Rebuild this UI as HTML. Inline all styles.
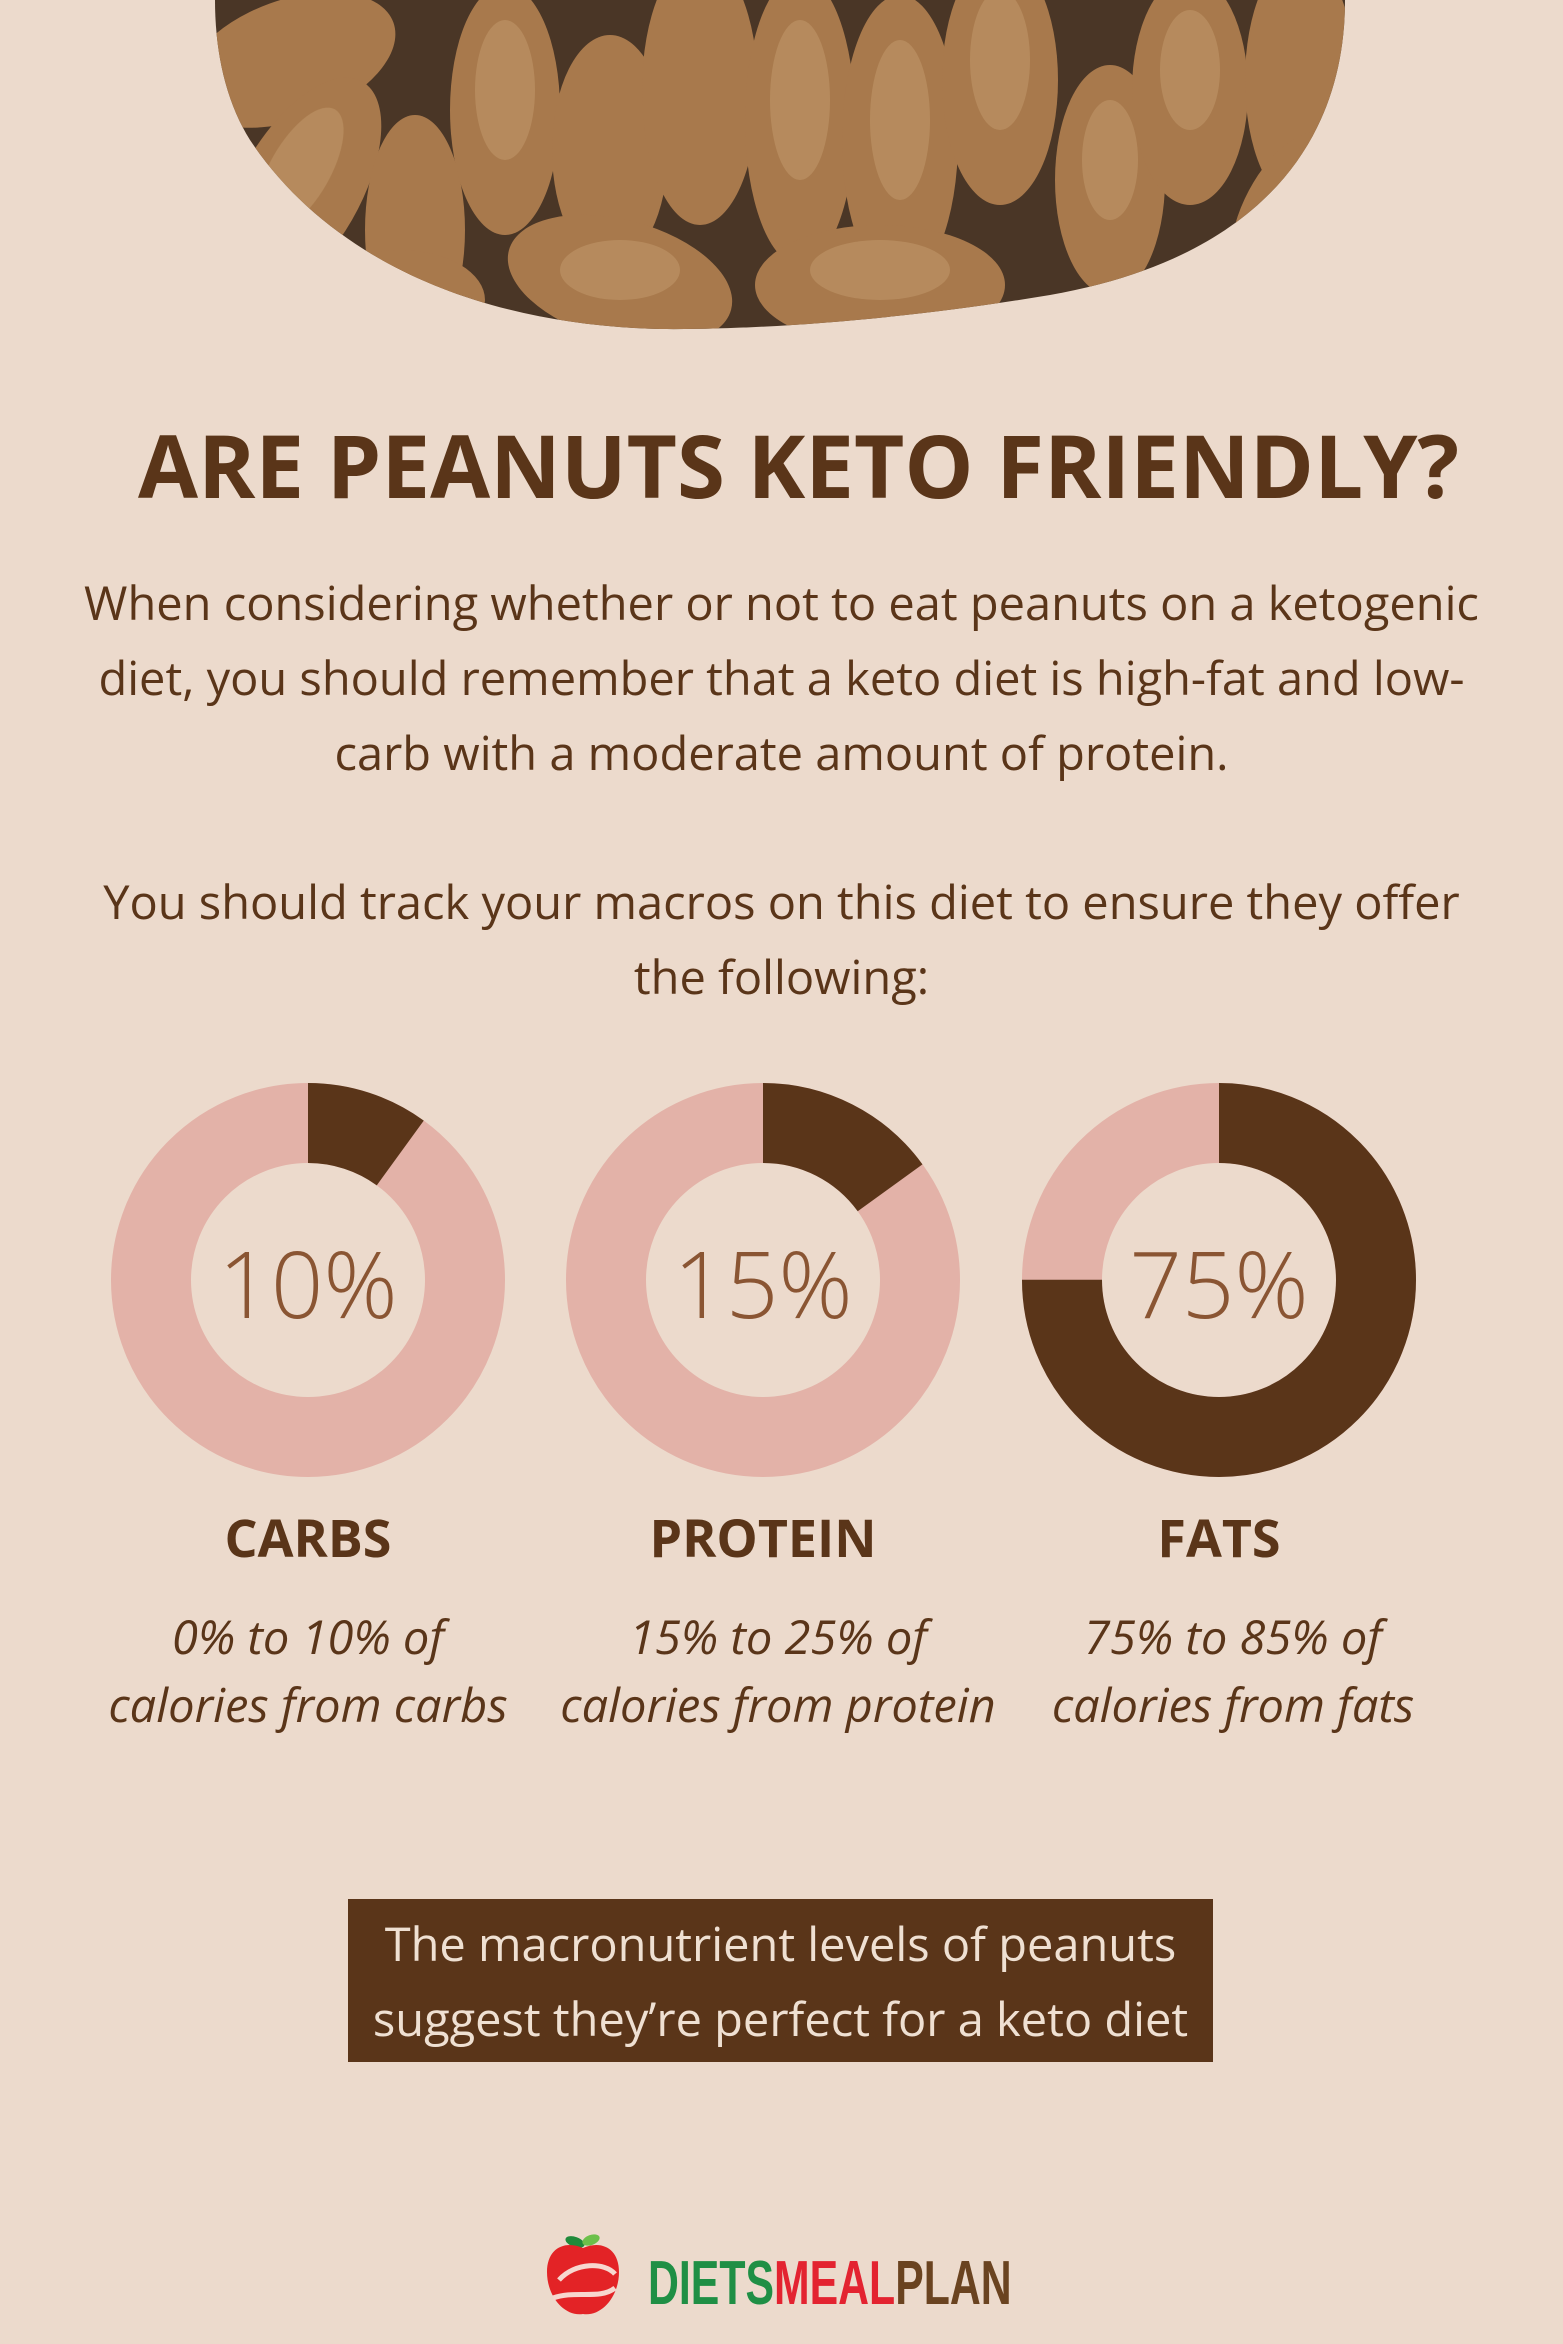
<!DOCTYPE html>
<html><head><meta charset="utf-8"><style>
html,body{margin:0;padding:0}
body{width:1563px;height:2344px;background:#ecdacc;position:relative;overflow:hidden;font-family:"Open Sans","Liberation Sans","DejaVu Sans",sans-serif;color:#5a3519}
.abs{position:absolute;left:0;width:1563px;text-align:center}
.title{top:406px;font-size:87px;font-weight:bold;left:17px}
.p{font-size:47px;line-height:75px;color:#5a3519}
.pct{position:absolute;font-size:92px;color:#8a5533;font-weight:300;text-align:center;width:300px}
.lab{position:absolute;font-size:52px;font-weight:bold;width:450px;text-align:center}
.it{position:absolute;font-size:47px;font-style:italic;line-height:68px;width:520px;text-align:center}
.box{position:absolute;left:348px;top:1899px;width:865px;height:163px;background:#5a3519;color:#efe0d2;font-size:47px;line-height:75px;text-align:center;padding-top:7px;box-sizing:border-box}
.logo{position:absolute;left:648px;top:2253px;font-family:"Liberation Sans",sans-serif;font-weight:bold;font-size:62px;line-height:62px;transform:scaleX(0.69);transform-origin:0 0;white-space:nowrap}
</style></head><body>
<svg width="1563" height="340" style="position:absolute;left:0;top:0">
<defs><clipPath id="c"><path d="M215,0 L1345,0 C1345,150 1250,260 1050,295 C900,320 760,330 660,329 C480,325 330,260 250,140 C225,100 215,50 215,0 Z"/></clipPath></defs>
<g clip-path="url(#c)">
<rect x="200" y="0" width="1160" height="340" fill="#4a3626"/>
<g fill="#a8794c">
<ellipse cx="290" cy="60" rx="110" ry="60" transform="rotate(-20 290 60)"/>
<ellipse cx="300" cy="190" rx="60" ry="125" transform="rotate(30 300 190)"/>
<ellipse cx="415" cy="230" rx="50" ry="115"/>
<ellipse cx="505" cy="110" rx="55" ry="125"/>
<ellipse cx="610" cy="150" rx="58" ry="115"/>
<ellipse cx="700" cy="90" rx="58" ry="135"/>
<ellipse cx="800" cy="120" rx="55" ry="145"/>
<ellipse cx="900" cy="140" rx="58" ry="145"/>
<ellipse cx="1000" cy="80" rx="58" ry="125"/>
<ellipse cx="1110" cy="180" rx="55" ry="115"/>
<ellipse cx="1190" cy="90" rx="58" ry="115"/>
<ellipse cx="1300" cy="80" rx="55" ry="125"/>
<ellipse cx="1290" cy="220" rx="50" ry="95" transform="rotate(25 1290 220)"/>
<ellipse cx="620" cy="280" rx="115" ry="60" transform="rotate(15 620 280)"/>
<ellipse cx="880" cy="285" rx="125" ry="60"/>
<ellipse cx="400" cy="300" rx="85" ry="50"/>
</g>
<g fill="#c29a6c" opacity="0.55">
<ellipse cx="505" cy="90" rx="30" ry="70"/>
<ellipse cx="800" cy="100" rx="30" ry="80"/>
<ellipse cx="1000" cy="60" rx="30" ry="70"/>
<ellipse cx="880" cy="270" rx="70" ry="30"/>
<ellipse cx="300" cy="170" rx="30" ry="70" transform="rotate(30 300 170)"/>
<ellipse cx="1190" cy="70" rx="30" ry="60"/>
<ellipse cx="620" cy="270" rx="60" ry="30"/>
<ellipse cx="900" cy="120" rx="30" ry="80"/>
<ellipse cx="1110" cy="160" rx="28" ry="60"/>
</g>
</g>
</svg>
<div class="abs title">ARE PEANUTS KETO FRIENDLY?</div>
<div class="abs p" style="top:565px">When considering whether or not to eat peanuts on a ketogenic<br>diet, you should remember that a keto diet is high-fat and low-<br>carb with a moderate amount of protein.</div>
<div class="abs p" style="top:864px">You should track your macros on this diet to ensure they offer<br>the following:</div>
<svg width="1563" height="420" style="position:absolute;left:0;top:1070px">
<g fill="none" stroke-width="80">
<circle cx="308" cy="210" r="157" stroke="#e3b2a8"/>
<circle cx="308" cy="210" r="157" stroke="#5a3519" stroke-dasharray="98.6 2000" transform="rotate(-90 308 210)"/>
<circle cx="763" cy="210" r="157" stroke="#e3b2a8"/>
<circle cx="763" cy="210" r="157" stroke="#5a3519" stroke-dasharray="148 2000" transform="rotate(-90 763 210)"/>
<circle cx="1219" cy="210" r="157" stroke="#e3b2a8"/>
<circle cx="1219" cy="210" r="157" stroke="#5a3519" stroke-dasharray="739.8 2000" transform="rotate(-90 1219 210)"/>
</g>
</svg>
<div class="pct" style="left:158px;top:1220px">10%</div>
<div class="pct" style="left:613px;top:1220px">15%</div>
<div class="pct" style="left:1069px;top:1220px">75%</div>
<div class="lab" style="left:83px;top:1502px">CARBS</div>
<div class="lab" style="left:538px;top:1502px">PROTEIN</div>
<div class="lab" style="left:994px;top:1502px">FATS</div>
<div class="it" style="left:48px;top:1602px">0% to 10% of<br>calories from carbs</div>
<div class="it" style="left:518px;top:1602px">15% to 25% of<br>calories from protein</div>
<div class="it" style="left:973px;top:1602px">75% to 85% of<br>calories from fats</div>
<div class="box">The macronutrient levels of peanuts<br>suggest they’re perfect for a keto diet</div>
<svg width="80" height="90" style="position:absolute;left:545px;top:2232px">
<ellipse cx="30" cy="10" rx="10" ry="5" fill="#1f8a3a" transform="rotate(20 30 10)"/>
<ellipse cx="46" cy="8" rx="9" ry="5" fill="#6cc04a" transform="rotate(-20 46 8)"/>
<path d="M38,16 C20,8 2,16 2,40 C2,65 20,85 38,82 C56,85 74,65 74,40 C74,16 56,8 38,16Z" fill="#e32326"/>
<path d="M14,48 C30,30 60,30 70,42 M8,66 C30,58 55,68 70,56" stroke="#f7d7cf" stroke-width="5" fill="none"/>
</svg>
<div class="logo"><span style="color:#1f8f45">DIETS</span><span style="color:#e32330">MEAL</span><span style="color:#6a4320">PLAN</span></div>
</body></html>
